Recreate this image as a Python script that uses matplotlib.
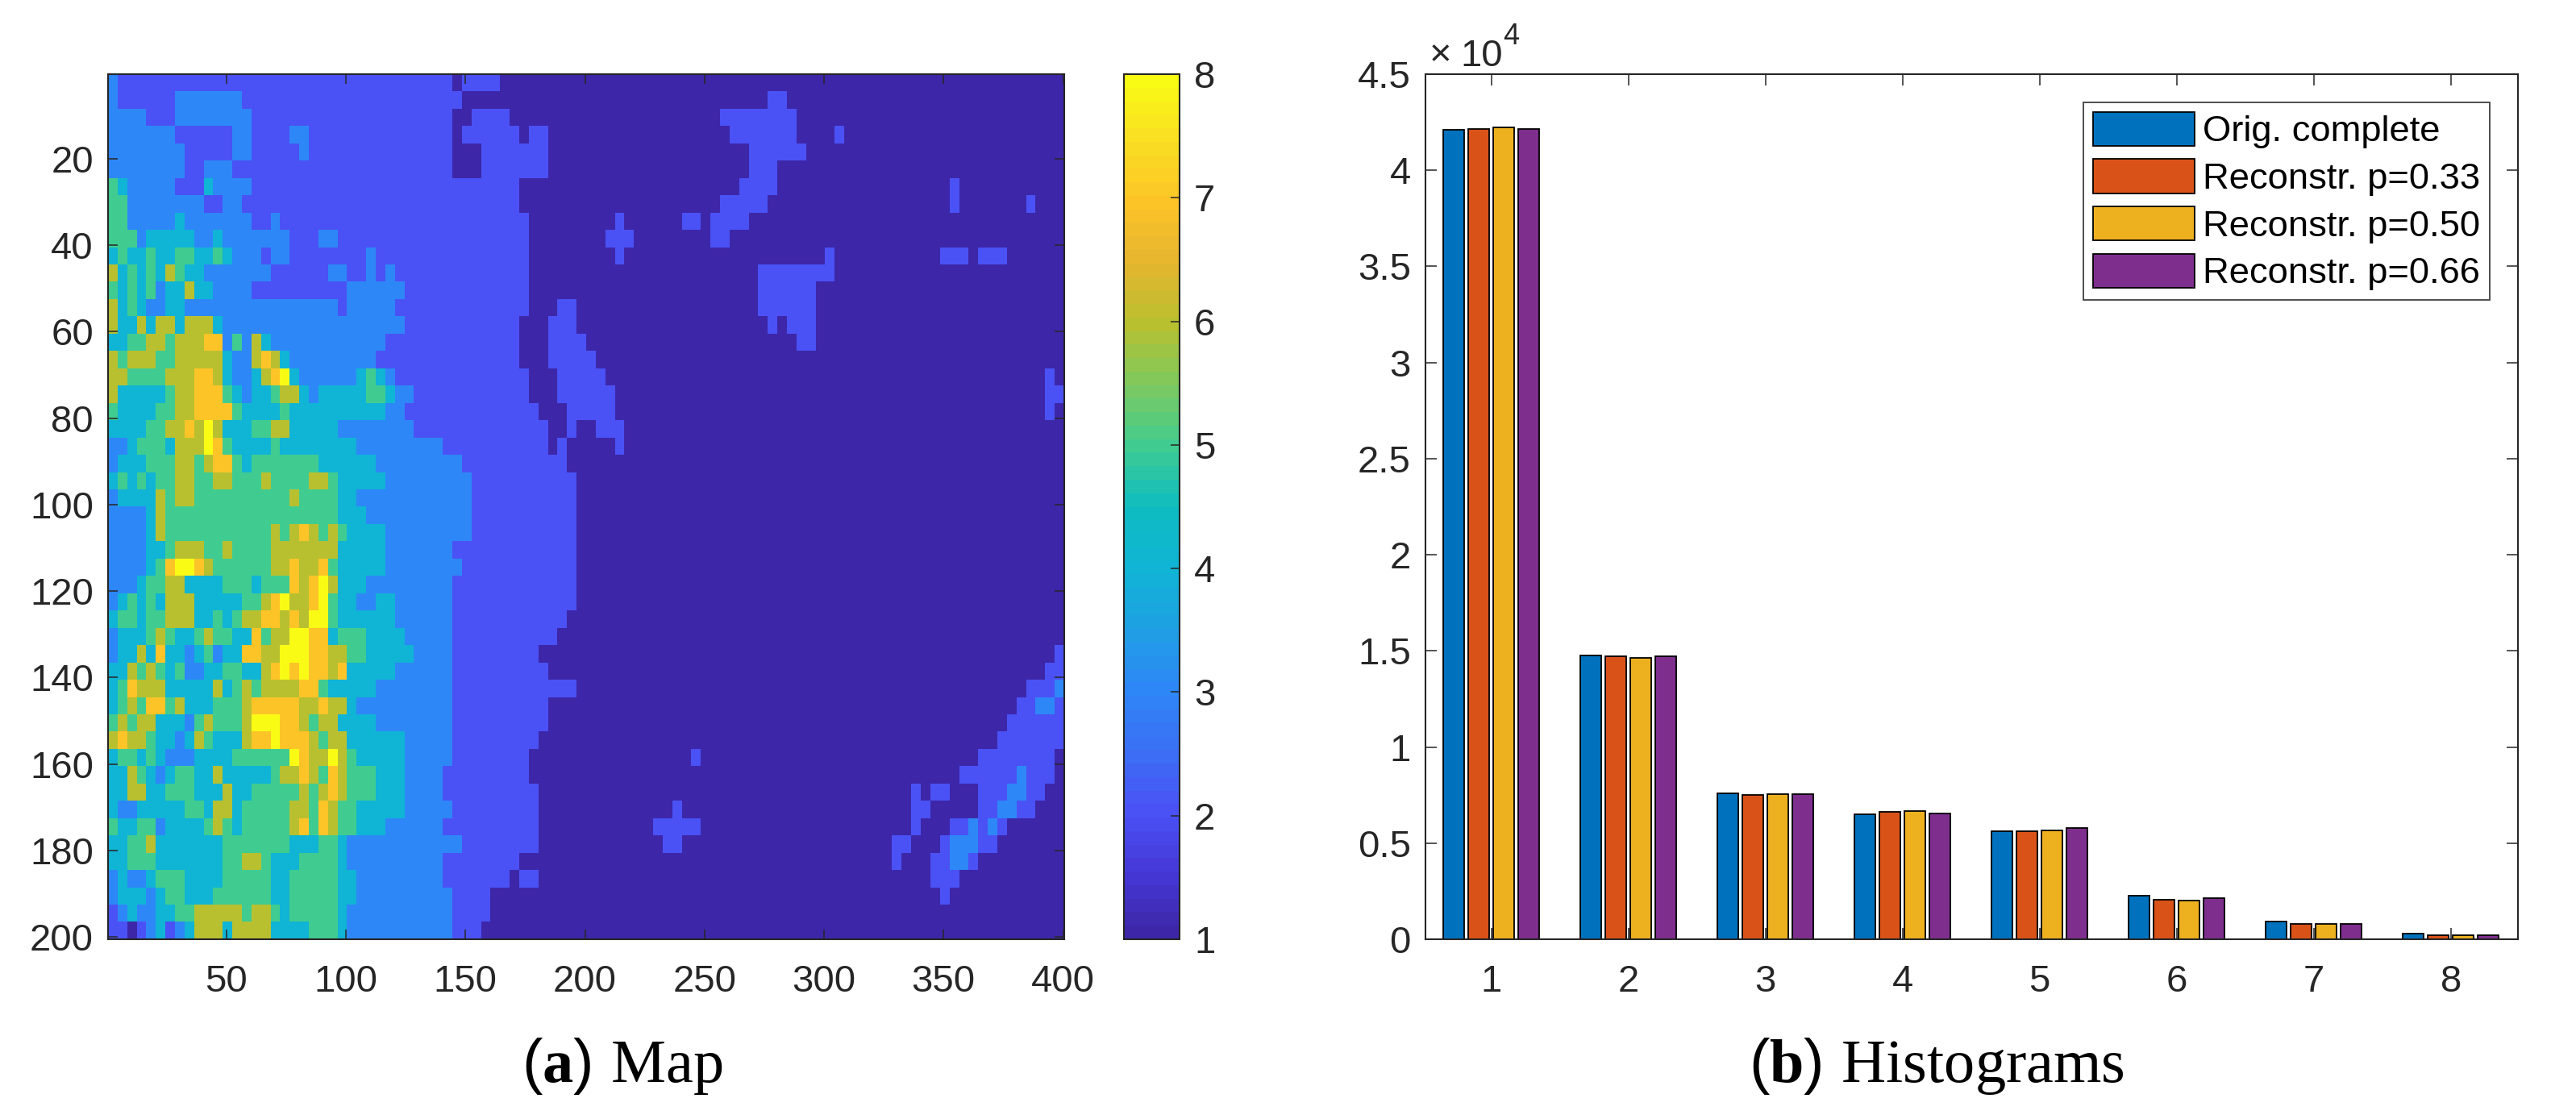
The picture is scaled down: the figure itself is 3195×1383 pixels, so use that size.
import numpy as np
import matplotlib
matplotlib.use("Agg")
from matplotlib import pyplot as plt
from matplotlib.colors import LinearSegmentedColormap

plt.rcParams['font.family'] = ['Liberation Sans', 'DejaVu Sans']
plt.rcParams['mathtext.fontset'] = 'custom'
plt.rcParams['mathtext.rm'] = 'Liberation Serif'
plt.rcParams['mathtext.bf'] = 'Liberation Serif:bold'

##################
# Histogram data #
##################
categories = [1, 2, 3, 4, 5, 6, 7, 8]
orig_complete = [42100, 14770, 7570, 6510, 5630, 2270, 920, 290]
reconstr_033 = [42160, 14730, 7520, 6620, 5610, 2040, 800, 230]
reconstr_050 = [42230, 14650, 7550, 6670, 5660, 2010, 800, 210]
reconstr_066 = [42140, 14710, 7550, 6540, 5770, 2120, 800, 190]
series_labels = ["Orig. complete", "Reconstr. p=0.33", "Reconstr. p=0.50", "Reconstr. p=0.66"]
series_colors = ["#0072BD", "#D95319", "#EDB120", "#7E2F8E"]
hist_ticks = [0, 5000, 10000, 15000, 20000, 25000, 30000, 35000, 40000, 45000]
hist_ticklabels = ["0", "0.5", "1", "1.5", "2", "2.5", "3", "3.5", "4", "4.5"]

############
# Map data #
############
# classes, one string per block of 4x4 map cells, rows padded with class 1
map_rows = [
    "3"+"2"*35+"1"+"2222"+"1",
    "3"+"2"*6+"3"*7+"2"*23+"1"*5+"1"*27+"22",
    "3333"+"222"+"3"*8+"2"*21+"11"+"2222"+"1"*22+"2"*8,
    "3"*7+"2"*6+"33"+"2222"+"33"+"2"*15+"1"+"2"*5+"2"+"1"+"22"+"1"*19+"2"*7+"1"*4+"2",
    "3"*8+"2"*5+"33"+"2"*5+"3"+"2"*15+"111"+"222"+"2222"+"1"*21+"2"*6,
    "3"*8+"22"+"333"+"2"*23+"111"+"222"+"2222"+"1"*21+"222",
    "54"+"3"*5+"222"+"4"+"3333"+"2"*27+"2"+"1"*23+"2222"+"1"*18+"2",
    "55"+"3"*8+"22"+"33"+"2"*28+"2"+"1"*21+"2"*5+"1"*19+"2"+"1"*7+"2",
    "55"+"3"*5+"4"+"3"*6+"3"+"22"+"3"+"2"*24+"22"+"1"*9+"2"+"1"*6+"22"+"1"+"2222",
    "555"+"3"+"44444"+"33"+"4"+"3333"+"333"+"222"+"33"+"2"*18+"22"+"1"*8+"222"+"1"*8+"22",
    "4544544554454"+"333"+"2"+"33"+"2"*8+"3"+"2"*14+"22"+"1"*9+"2"+"1"*21+"2"+"1"*11+"222"+"1"+"222",
    "6454546544"+"3"*7+"2"*6+"33"+"22"+"3"+"2"+"3"+"2"*12+"22"+"1"*24+"2"*8,
    "54545344644"+"3"*4+"2"*10+"3"*6+"2"*11+"22"+"1"*24+"2"*6,
    "64543344333"+"3"*13+"2"+"3"*5+"2"*12+"22"+"111"+"22"+"1"*19+"2"*6,
    "644646646664"+"3"*18+"3"+"2"*11+"2"+"111"+"222"+"1"*20+"2"+"1"+"222",
    "44556656667735364"+"3"*12+"2"*13+"2"+"111"+"2222"+"1"*22+"22",
    "6566655666664336764"+"3"*9+"2"*14+"2"+"111"+"2"*5,
    "66555566677643346784"+"3"*6+"4543"+"2"*12+"22"+"111"+"2"*5+"1"*46+"2",
    "64444456677754344566434444455433"+"2"*10+"22"+"111"+"2"*6+"1"*45+"22",
    "54444556677775444454"+"4"*9+"33"+"2"*11+"222"+"111"+"2"*5+"1"*45+"2",
    "4444"+"55"+"66"+"7"+"6"+"8"+"6"+"444"+"55"+"66"+"4"*5+"3"*8+"2"*10+"2222"+"11"+"2"+"11"+"222",
    "3345554666875444454"+"4"*7+"3"*9+"2"*7+"2222"+"1"+"2"+"1"*5+"2",
    "34445556656775455555554"+"4"*5+"3"*9+"2"*5+"2"*6,
    "454545566556655565555665"+"4"*5+"3"*9+"2"*4+"2"*7,
    "344446566"+"5"*10+"6"+"5"*4+"44"+"3"*12+"2"*4+"2"*7,
    "3333465"+"5"*17+"444"+"3"*11+"2"*4+"2"*7,
    "3333465"+"5"*10+"65676565"+"4"*4+"3"*9+"2"*4+"2"*7,
    "333344566655655556666666"+"4"*5+"3"*7+"2"*6+"2"*7,
    "3333457887"+"6"+"555555"+"667667"+"5"+"4"*5+"3"*8+"2"*5+"2"*7,
    "333455664444555455576786"+"444"+"3"*9+"2"*6+"2"*7,
    "345454666"+"44444"+"55"+"678"+"66"+"78"+"5"+"44"+"33"+"44"+"3"*6+"2"*6+"2"*7,
    "455455666445456677676885"+"4"*6+"3"*6+"2"*6+"2"*6,
    "344456544565544756688774"+"555"+"4444"+"3"*5+"2"*6+"2"*5,
    "344647443453447766888776655"+"4"*5+"3333"+"2"*6+"222"+"1"*54+"2",
    "44656545334455446787877674"+"4444"+"3"*6+"2"*6+"2"*4+"1"*52+"22",
    "457666444446456566667754"+"4444"+"3"*8+"2"*6+"2"*7+"1"*47+"222"+"3",
    "45657756444555677777667664"+"3"*10+"2"*6+"2"*4+"1"*49+"22"+"33"+"2",
    "565664443565556888776566"+"4444"+"3"*8+"2"*6+"2"*4+"1"*48+"2"*6,
    "6766544346544467787776566"+"4"*6+"3"*5+"2"*6+"222"+"1"*48+"2"*7,
    "455454333444455555587668654"+"4444"+"3"*5+"2"*6+"22"+"1"*17+"2"+"1"*29+"2"*8,
    "4465434554464444456676576555"+"444"+"3333"+"2"*7+"22"+"1"*45+"2"*6+"3"+"222",
    "4466445554446445555565676555"+"444"+"3333"+"2"*7+"222"+"1"*39+"2"+"1"+"22"+"111"+"222"+"33"+"22",
    "433444445546645555566576554"+"4444"+"3"*5+"2"*6+"222"+"1"*14+"2"+"1"*24+"22"+"1"*5+"22"+"33"+"22",
    "544553444456545555567576554"+"44"+"3"*6+"2"*7+"222"+"1"*12+"2"*5+"1"*22+"2"+"111"+"22"+"3"+"2"+"3"+"2",
    "4455644444445555555444554"+"3"*12+"2"*5+"222"+"1"*13+"22"+"1"*22+"22"+"111"+"2"+"333"+"22",
    "4455544444445566544455554"+"3"*10+"2"*7+"2"+"1"*39+"2"+"111"+"22"+"33"+"2",
    "34334555444455555445555544"+"3"*9+"2"*7+"1"+"22"+"1"*41+"222",
    "34443455444555555445555544"+"3"*10+"2222"+"11"+"1"*45+"2",
    "2343344556666656654555554"+"3"*11+"2222"+"11",
    "2212342346664666644445554"+"3"*11+"222"+"111",
]
map_xticks = [50, 100, 150, 200, 250, 300, 350, 400]
map_yticks = [20, 40, 60, 80, 100, 120, 140, 160, 180, 200]
cbar_ticks = [1, 2, 3, 4, 5, 6, 7, 8]

parula_colors = ["#3D26A8", "#4538D7", "#4A52F5", "#3B6FF5", "#2E87F7", "#1FA0E3", "#10B4D5",
                 "#0FBCC0", "#40CC90", "#7DC95F", "#B8C030", "#E5B52F", "#FDC428", "#FADE22", "#F9FB15"]
parula = LinearSegmentedColormap.from_list("parula", parula_colors, N=64)

W = 3195.
H = 1383.
dark = "#262626"
fs = 34
lw = 1.5


def px_axes(x0, y0, x1, y1):
    # axes box from reference pixels
    return fig.add_axes([x0/W, 1-y1/H, (x1-x0)/W, (y1-y0)/H])


def style_axes(ax, pad_x, pad_y, tick_len):
    for s in ax.spines.values():
        s.set_linewidth(lw)
        s.set_color(dark)
    ax.tick_params(direction="in", top=True, right=True, length=tick_len, width=1.1,
                   color=dark, labelcolor=dark, labelsize=fs)
    ax.tick_params(axis="x", pad=pad_x)
    ax.tick_params(axis="y", pad=pad_y)


fig = plt.figure(figsize=(W/100, H/100), dpi=100)

# map
map_data = np.array([[int(v) for v in row.ljust(100, "1")[:100]] for row in map_rows])
ax1 = px_axes(134, 92, 1320, 1165)
im = ax1.imshow(map_data, cmap=parula, vmin=1, vmax=8, aspect="auto", interpolation="nearest",
                extent=[0.5, 400.5, 200.5, 0.5])
ax1.set_xticks(map_xticks)
ax1.set_yticks(map_yticks)
style_axes(ax1, 22, 13, 8.5)

cax = px_axes(1394, 92, 1463, 1165)
cb = fig.colorbar(im, cax=cax)
cb.set_ticks(cbar_ticks)
cb.outline.set_linewidth(lw)
cb.outline.set_edgecolor(dark)
cax.tick_params(direction="in", length=8, width=1.1, color=dark, labelcolor=dark, labelsize=fs, pad=13,
                left=False, right=True)

# histograms
ax2 = px_axes(1768, 92, 3123, 1165)
n_series = len(series_labels)
spacing = 0.182
width = 0.153
all_series = [orig_complete, reconstr_033, reconstr_050, reconstr_066]
for i in range(n_series):
    xpos = np.array(categories) + (i-(n_series-1)/2.)*spacing
    ax2.bar(xpos, all_series[i], width=width, color=series_colors[i], edgecolor="black",
            linewidth=1.3, label=series_labels[i])
ax2.set_xlim(0.52, 8.49)
ax2.set_ylim(0, 45000)
ax2.set_xticks(categories)
ax2.set_yticks(hist_ticks)
ax2.set_yticklabels(hist_ticklabels)
style_axes(ax2, 22, 13, 10)

leg = ax2.legend(loc="upper right", bbox_to_anchor=((3088-1768)/(3123-1768.), 1-(127-92)/(1165-92.)),
                 fontsize=32.7, handlelength=2.775, handleheight=1.057, labelspacing=0.286,
                 handletextpad=0.22, borderpad=0.26, borderaxespad=0, fancybox=False,
                 framealpha=1, edgecolor="#404040", labelcolor="black")
leg.get_frame().set_linewidth(1.3)

fig.text(1773/W, 1-81/H, "×", fontsize=fs, color=dark, va="baseline", ha="left")
fig.text(1811/W, 1-82/H, "10", fontsize=fs, color=dark, va="baseline", ha="left")
fig.text(1864/W, 1-55/H, "4", fontsize=26, color=dark, va="baseline", ha="left")

# captions
fig.text(772/W, 1-1342/H, r"($\mathbf{a}$) $\mathrm{Map}$", fontsize=55, color="black", ha="center", va="baseline")
fig.text(2402/W, 1-1342/H, r"($\mathbf{b}$) $\mathrm{Histograms}$", fontsize=55, color="black", ha="center", va="baseline")

fig.savefig("out.png", dpi=100)
